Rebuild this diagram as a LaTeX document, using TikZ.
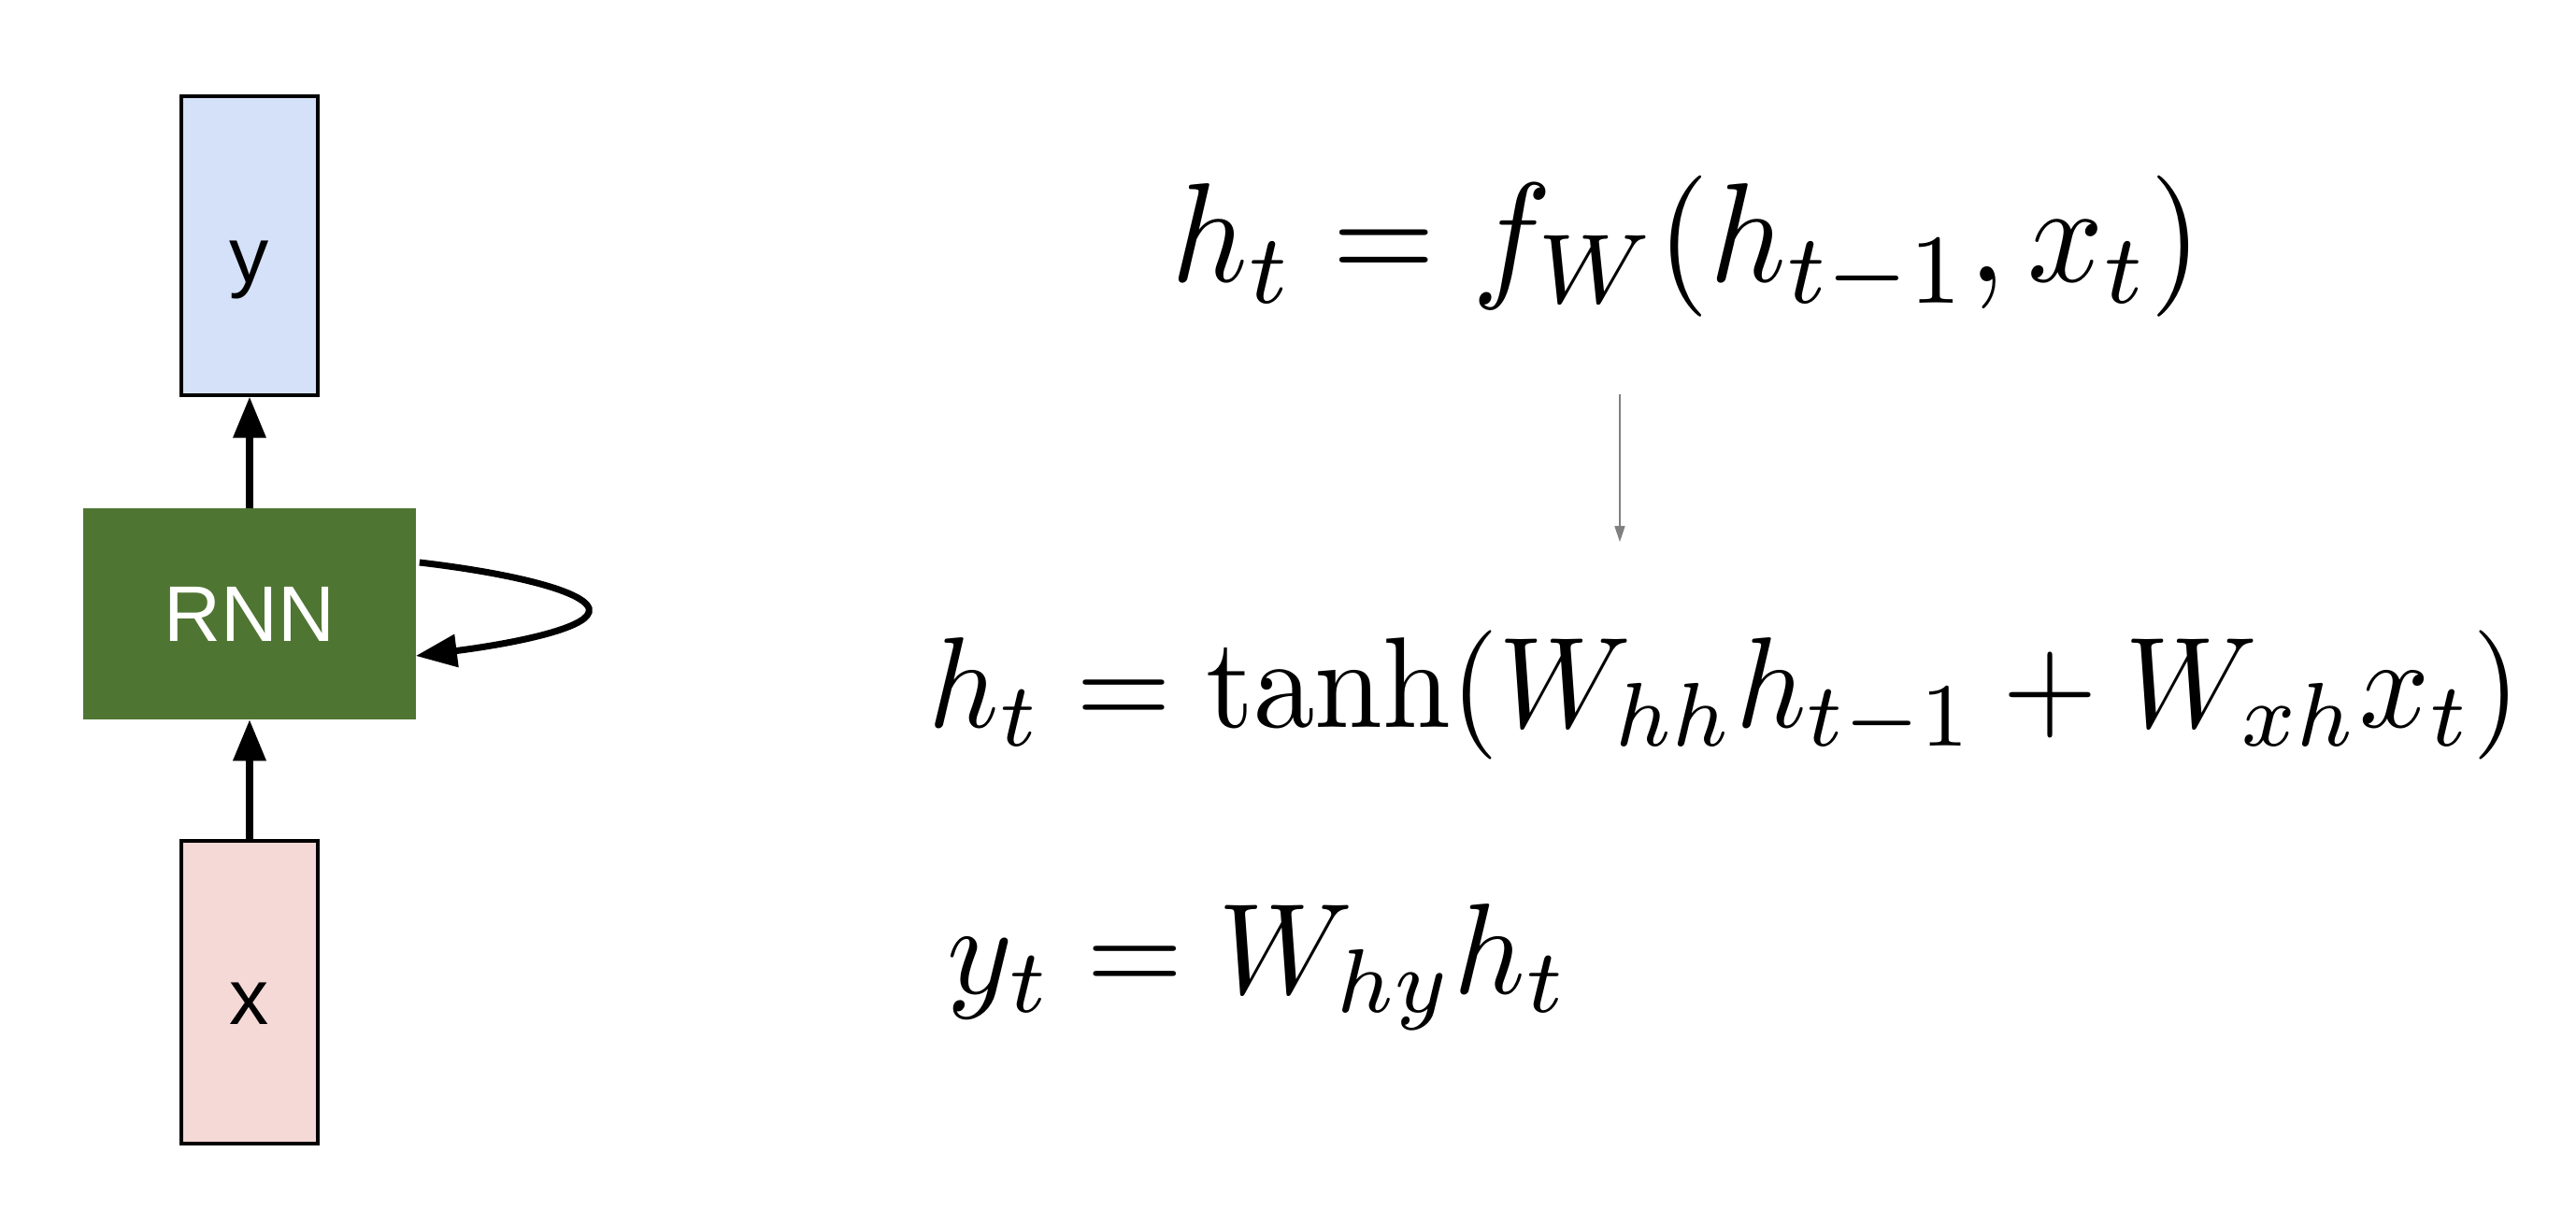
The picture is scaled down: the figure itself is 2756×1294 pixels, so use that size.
\documentclass[tikz,border=0pt]{standalone}
\usepackage{amsmath}
\usepackage{fontspec}
\newfontfamily\sansf{Liberation Sans}
\usetikzlibrary{arrows.meta}
\definecolor{yblue}{RGB}{213,225,248}
\definecolor{xpink}{RGB}{244,217,214}
\definecolor{rnngreen}{RGB}{79,117,51}
\definecolor{garrow}{RGB}{128,128,128}
\tikzset{
  iobox/.style={draw=black, line width=0.032cm, minimum width=1.46cm, minimum height=3.2cm, inner sep=0pt, text depth=0pt, font=\sansf\fontsize{24}{28}\selectfont},
  rnnbox/.style={fill=rnngreen, minimum width=3.56cm, minimum height=2.25cm, inner sep=0pt, text=white, font=\sansf\fontsize{24}{28}\selectfont},
  conn/.style={line width=0.07cm, -{Triangle[length=0.44cm, width=0.34cm]}},
  thinarrow/.style={draw=garrow, line width=0.016cm, -{Triangle[length=0.17cm, width=0.11cm]}},
  eqn/.style={anchor=base west, inner sep=0pt}
}
\begin{document}
\begin{tikzpicture}[x=0.01cm, y=-0.01cm]
\useasboundingbox (0,0) rectangle (2756,1294);
\node[iobox, fill=yblue, text height=0.78cm] (ybox) at (267,263) {y};
\node[rnnbox] (rnn) at (267,657) {RNN};
\node[iobox, fill=xpink, minimum height=3.24cm, text height=0.68cm] (xbox) at (267,1062) {x};
\draw[conn] (rnn.north) -- (ybox.south);
\draw[conn] (xbox.north) -- (rnn.south);
\draw[conn] ([shift={(3,-55)}]rnn.east) .. controls (560,615) and (646,638) .. (628,659) .. controls (614,676) and (540,690) .. ([shift={(-1,45)}]rnn.east);
\node[eqn, xscale=4.04, yscale=4.3] (eq1) at (1251,302) {$h_t = f_W(h_{t-1}, x_t)$};
\coordinate (g1) at (1733,422);
\coordinate (g2) at (1733,580);
\draw[thinarrow] (g1) -- (g2);
\node[eqn, xscale=3.73, yscale=3.93] (eq2) at (991,778) {$h_t = \tanh(W_{hh}h_{t-1} + W_{xh}x_t)$};
\node[eqn, xscale=3.79, yscale=3.93] (eq3) at (1011,1063) {$y_t = W_{hy}h_t$};
\end{tikzpicture}
\end{document}
